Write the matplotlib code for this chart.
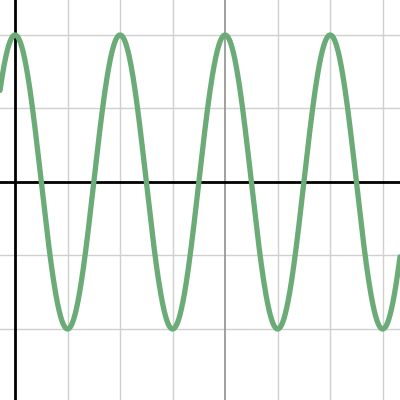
import matplotlib
matplotlib.use("Agg")
import matplotlib.pyplot as plt
import numpy as np

# curve parameters: y = AMP * cos(2*pi*x / PERIOD)
AMP = 2.0
PERIOD = 2.0
X_RANGE = (-0.286, 7.33)
Y_RANGE = (-2.966, 2.476)
GRID_X = [1, 2, 3, 5, 6, 7]
GRID_Y = [-2, -1, 1, 2]
MAJOR_X = [4]

fig = plt.figure(figsize=(4, 4), dpi=100)
ax = fig.add_axes([0, 0, 1, 1])
for gx in GRID_X:
    ax.axvline(gx, color="#d0d0d0", lw=1, zorder=1)
for gy in GRID_Y:
    ax.axhline(gy, color="#d0d0d0", lw=1, zorder=1)
for gx in MAJOR_X:
    ax.axvline(gx, color="#909090", lw=1.2, zorder=1)
ax.axvline(0, color="black", lw=2, zorder=2)
ax.axhline(0, color="black", lw=2, zorder=2)

x = np.linspace(X_RANGE[0], X_RANGE[1], 2000)
ax.plot(x, AMP * np.cos(2 * np.pi * x / PERIOD), color="#6aab78", lw=3.8, zorder=3,
        solid_capstyle="round")

ax.set_xlim(*X_RANGE)
ax.set_ylim(*Y_RANGE)
ax.axis("off")
fig.savefig("out.png", dpi=100)
